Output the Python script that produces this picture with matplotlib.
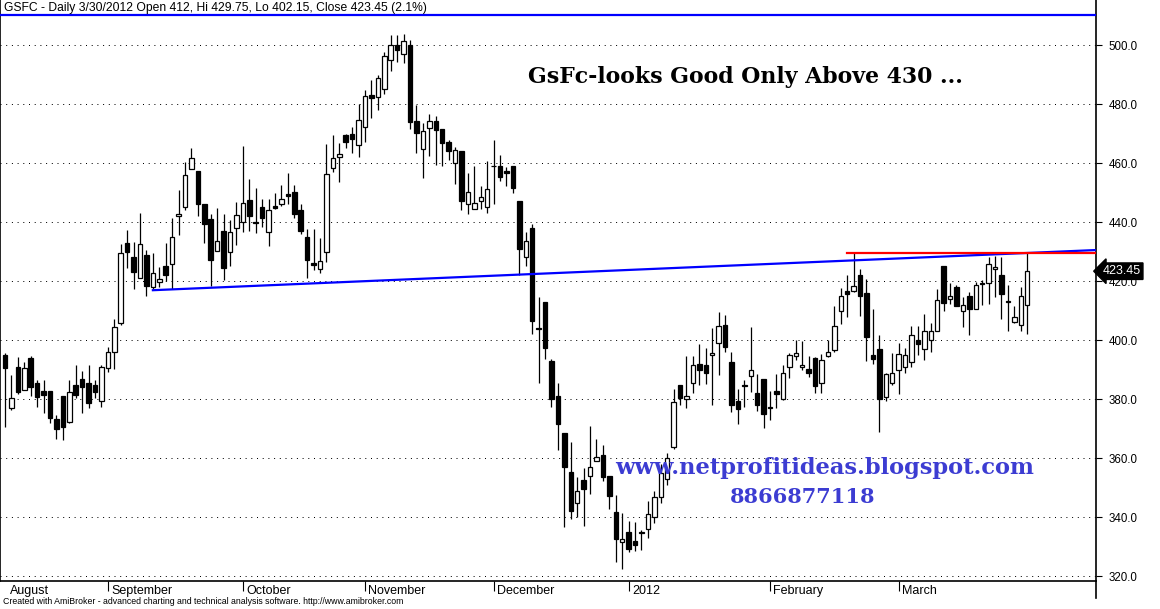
import matplotlib
matplotlib.use("Agg")
import matplotlib.pyplot as plt
from matplotlib.lines import Line2D
from matplotlib.transforms import blended_transform_factory

# daily OHLC, GSFC Aug 2011 - Mar 2012
opens = [395.0, 376.9, 391.0, 383.0, 394.0, 385.5, 382.8, 382.8, 373.3, 381.1,
         372.4, 384.8, 386.8, 385.7, 384.8, 379.6, 390.7, 396.1, 406.0, 433.0,
         428.2, 421.3, 429.1, 418.0, 419.9, 425.1, 425.8, 442.0, 445.1, 458.0,
         457.4, 446.2, 441.1, 430.2, 437.1, 429.8, 438.0, 440.0, 447.5, 440.0,
         445.1, 436.8, 445.5, 446.1, 449.6, 450.2, 444.2, 435.0, 426.1, 424.1,
         429.8, 458.6, 462.0, 469.5, 469.8, 466.1, 472.4, 483.2, 482.4, 485.1,
         495.2, 500.1, 497.0, 500.0, 474.3, 465.0, 471.9, 474.3, 471.6, 467.2,
         460.0, 464.2, 446.1, 444.4, 447.4, 445.1, 459.2, 459.1, 457.4, 459.1,
         447.2, 428.1, 438.0, 404.2, 412.9, 392.9, 381.0, 368.5, 355.2, 345.0,
         352.5, 353.9, 359.0, 361.0, 354.0, 341.8, 331.7, 335.0, 332.0, 334.9,
         335.9, 340.0, 347.0, 353.0, 363.7, 384.8, 380.0, 385.6, 392.0, 391.6,
         394.9, 399.0, 405.2, 392.6, 379.4, 384.8, 387.8, 382.0, 386.8, 377.3,
         382.7, 380.0, 390.8, 394.8, 390.8, 390.2, 393.9, 385.6, 394.8, 396.6,
         409.8, 416.9, 416.9, 422.1, 415.9, 394.9, 397.1, 380.9, 385.6, 389.8,
         391.0, 392.8, 400.1, 396.9, 400.0, 403.0, 425.2, 413.9, 418.1, 409.8,
         415.0, 410.5, 419.4, 419.3, 424.1, 422.1, 413.2, 406.3, 405.1, 412.0]
highs = [395.6, 388.2, 394.3, 392.5, 394.7, 386.4, 386.4, 382.8, 374.7, 381.1,
         386.5, 391.6, 389.6, 391.6, 386.5, 391.6, 397.7, 407.3, 432.6, 437.4,
         433.3, 443.2, 430.6, 429.6, 424.9, 433.0, 441.5, 450.9, 460.4, 465.2,
         457.4, 446.2, 442.8, 444.9, 442.8, 440.8, 446.9, 465.9, 454.6, 451.6,
         447.8, 447.9, 449.9, 452.6, 456.7, 452.6, 446.2, 437.7, 437.7, 434.6,
         466.5, 469.5, 466.9, 470.0, 472.2, 480.1, 484.9, 488.2, 489.9, 497.6,
         503.7, 503.7, 504.0, 502.0, 479.8, 473.7, 476.7, 476.0, 471.6, 467.9,
         465.6, 464.2, 456.7, 459.1, 452.3, 460.9, 467.9, 462.8, 458.7, 459.1,
         447.2, 436.8, 439.4, 414.7, 412.9, 393.7, 385.7, 368.5, 365.5, 353.6,
         356.7, 370.8, 366.5, 364.4, 354.0, 347.6, 341.3, 338.6, 338.4, 335.7,
         345.4, 349.0, 358.0, 361.7, 383.5, 384.8, 394.7, 394.7, 398.7, 397.4,
         404.2, 409.6, 408.6, 396.0, 383.5, 386.5, 404.5, 388.5, 386.8, 382.8,
         388.5, 391.6, 395.7, 400.1, 399.8, 394.6, 394.2, 395.2, 400.1, 411.6,
         417.6, 422.0, 429.5, 424.1, 420.7, 410.5, 401.8, 389.0, 395.7, 399.2,
         397.5, 404.8, 404.7, 408.9, 405.9, 417.3, 425.2, 419.3, 418.6, 414.8,
         416.4, 419.9, 420.4, 428.1, 428.6, 428.4, 418.7, 411.6, 418.1, 429.75]
lows = [370.5, 376.5, 381.7, 383.0, 381.2, 377.5, 375.2, 371.9, 366.5, 366.2,
        372.1, 380.3, 375.2, 377.2, 380.3, 377.5, 389.4, 390.3, 405.2, 424.4,
        417.5, 421.3, 415.1, 417.3, 418.0, 420.2, 417.4, 435.8, 444.2, 458.0,
        442.3, 433.1, 418.5, 430.2, 420.6, 425.3, 432.4, 436.6, 437.1, 436.5,
        438.5, 432.1, 444.5, 445.6, 446.3, 441.6, 436.2, 421.2, 423.7, 423.0,
        426.7, 457.2, 453.8, 465.3, 463.6, 462.3, 467.3, 475.5, 478.2, 483.5,
        491.4, 494.5, 494.0, 471.6, 463.4, 455.1, 462.6, 459.5, 459.2, 461.2,
        453.1, 444.3, 442.7, 444.4, 444.5, 443.3, 446.3, 454.1, 452.5, 450.0,
        422.1, 425.3, 402.0, 385.4, 393.7, 377.5, 362.9, 336.8, 339.3, 340.2,
        337.2, 347.8, 359.0, 352.4, 342.7, 325.0, 322.4, 328.4, 328.5, 328.8,
        333.0, 338.0, 345.0, 351.0, 363.0, 378.1, 377.1, 382.2, 384.8, 385.1,
        378.2, 388.3, 396.1, 375.8, 371.7, 377.5, 382.4, 376.1, 370.2, 373.1,
        377.2, 379.8, 387.4, 393.4, 389.9, 387.7, 382.1, 382.1, 394.3, 396.1,
        405.4, 408.0, 416.3, 408.4, 393.1, 392.0, 369.0, 379.5, 385.0, 381.7,
        389.0, 391.0, 395.0, 393.3, 396.1, 403.0, 410.0, 412.4, 411.7, 404.6,
        401.9, 410.5, 411.9, 412.4, 414.8, 407.3, 403.3, 406.0, 403.3, 402.15]
closes = [390.7, 380.3, 382.6, 390.5, 384.3, 380.9, 381.6, 373.8, 370.0, 370.7,
          382.4, 381.6, 384.3, 378.9, 382.6, 391.0, 395.9, 404.5, 429.6, 429.9,
          423.3, 432.5, 418.5, 423.0, 420.7, 422.3, 434.9, 443.0, 455.9, 461.7,
          446.1, 439.3, 427.3, 433.7, 424.6, 436.6, 442.4, 446.4, 442.3, 439.7,
          441.6, 444.1, 445.0, 447.8, 449.0, 443.0, 437.2, 427.3, 425.6, 426.9,
          456.3, 461.7, 463.1, 467.1, 468.4, 474.7, 482.7, 482.3, 488.8, 496.3,
          500.3, 498.6, 501.5, 474.1, 470.2, 471.0, 474.3, 471.4, 467.0, 464.3,
          464.5, 447.4, 450.2, 446.4, 448.6, 451.3, 459.0, 455.5, 456.9, 451.7,
          431.1, 433.7, 406.4, 403.9, 397.5, 380.2, 371.7, 357.2, 342.2, 348.8,
          349.5, 357.2, 360.3, 353.8, 347.3, 332.8, 332.5, 329.4, 330.5, 334.7,
          341.0, 347.0, 355.0, 360.2, 379.0, 380.6, 381.0, 391.5, 389.9, 389.0,
          395.6, 404.8, 397.6, 378.2, 376.8, 384.6, 389.9, 378.2, 375.1, 376.9,
          381.7, 388.8, 394.9, 395.6, 391.5, 389.0, 384.6, 393.5, 395.9, 404.7,
          415.2, 415.8, 418.3, 415.1, 401.2, 393.8, 380.2, 388.5, 388.8, 395.2,
          395.0, 401.7, 398.6, 403.2, 403.2, 413.7, 412.5, 414.9, 411.7, 411.9,
          410.7, 418.6, 419.0, 425.8, 424.7, 415.8, 412.9, 407.8, 414.9, 423.45]

month_labels = ["August", "September", "October", "November", "December",
                "2012", "February", "March"]
month_start = [0, 16, 37, 56, 76, 97, 119, 139]

# drawn lines: support/resistance trend line, breakout level, top line
trend_x = [23, 169.5]
trend_y = [417.0, 430.6]
resist_x = [131, 169.5]
resist_y = [429.75, 429.75]
top_line_y = 510.3

price_ticks = [320, 340, 360, 380, 400, 420, 440, 460, 480, 500]
last_close = closes[-1]

fig = plt.figure(figsize=(11.6, 6.09), dpi=100)
ax = fig.add_axes([0, 28 / 609, 1096 / 1160, 581 / 609])

x = list(range(len(closes)))
up = [c >= o for o, c in zip(opens, closes)]

# wicks then bodies
ax.vlines(x, lows, highs, color="black", linewidth=0.9, zorder=2)
body_bottom = [min(o, c) for o, c in zip(opens, closes)]
body_height = [max(abs(c - o), 0.25) for o, c in zip(opens, closes)]
ax.bar(x, body_height, bottom=body_bottom, width=0.7,
       color=["white" if u else "black" for u in up],
       edgecolor="black", linewidth=0.9, zorder=3)

ax.plot(trend_x, trend_y, color="#0000ff", linewidth=1.6, zorder=4)
ax.plot(resist_x, resist_y, color="#ff0000", linewidth=1.6, zorder=4)
ax.axhline(top_line_y, color="#0000ff", linewidth=1.6, zorder=4)

ax.set_xlim(-0.78, 169.7)
ax.set_ylim(318.4, 515.4)

# price axis on the right
ax.yaxis.tick_right()
ax.set_yticks(price_ticks)
ax.set_yticklabels([f"{v:.1f}" for v in price_ticks], fontsize=8.3,
                   family="Liberation Sans")
ax.tick_params(axis="y", direction="out", length=4, width=0.8, pad=5)
ax.grid(axis="y", color="black", linewidth=0.72, linestyle=(0, (1, 4.7)))

# month ticks and labels
ax.set_xticks(month_start[1:])
ax.set_xticklabels([])
ax.tick_params(axis="x", direction="out", length=7, width=0.8)
trans = blended_transform_factory(ax.transData, ax.transAxes)
for i, lab in zip(month_start, month_labels):
    off = 0.7 if i == 0 else 0.5
    ax.text(i + off, -0.018, lab, transform=trans, ha="left", va="center",
            fontsize=9, family="Liberation Sans")

ax.spines["top"].set_visible(False)
for side in ["left", "bottom", "right"]:
    ax.spines[side].set_linewidth(1.2)
# price axis line runs a little below the date axis
fig.add_artist(Line2D([1096 / 1160, 1096 / 1160], [28 / 609, 11 / 609],
                      color="black", linewidth=1.2))

# last price tag
ax.text(1.006, last_close, f"{last_close:.2f}",
        transform=blended_transform_factory(ax.transAxes, ax.transData),
        ha="left", va="center", fontsize=9, color="white", family="Liberation Sans",
        bbox=dict(boxstyle="larrow,pad=0.18", facecolor="black", edgecolor="black"),
        clip_on=False, zorder=6)

ax.text(0.004, 0.986, "GSFC - Daily 3/30/2012 Open 412, Hi 429.75, Lo 402.15, Close 423.45 (2.1%)",
        transform=ax.transAxes, ha="left", va="center", fontsize=8.7,
        family="Liberation Sans", zorder=6)

fig.text(528 / 1160, 1 - 77 / 609, "GsFc-looks Good Only Above 430 ...",
         ha="left", va="center", fontsize=15.8, fontweight="bold", family="DejaVu Serif")
fig.text(825 / 1160, 1 - 468 / 609, "www.netprofitideas.blogspot.com",
         ha="center", va="center", fontsize=16.2, fontweight="bold",
         family="DejaVu Serif", color="#3c3cd2")
fig.text(803 / 1160, 1 - 497 / 609, "8866877118",
         ha="center", va="center", fontsize=15, fontweight="bold",
         family="DejaVu Serif", color="#3c3cd2")

fig.text(3 / 1160, 1 - 602 / 609,
         "Created with AmiBroker - advanced charting and technical analysis software. http://www.amibroker.com",
         ha="left", va="center", fontsize=6.3, family="Liberation Sans")

fig.savefig("out.png", dpi=100)
